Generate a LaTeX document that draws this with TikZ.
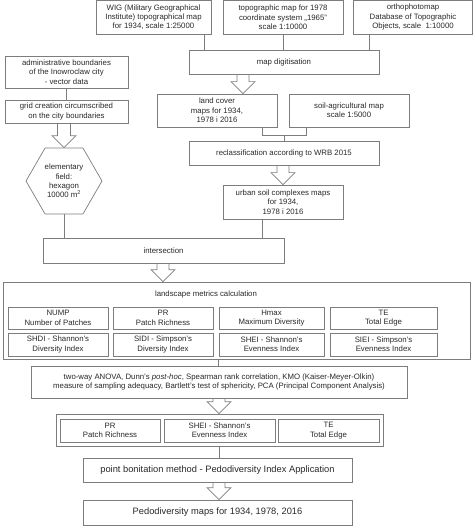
\documentclass[tikz,border=0pt]{standalone}
\usepackage{fontspec}
\setmainfont{Liberation Sans}
\usetikzlibrary{calc,shapes.geometric}
\definecolor{lc}{RGB}{125,125,125}
\definecolor{tc}{RGB}{40,40,40}
\newcommand\harrow[5]{% from, to, x, shaft half width, head half width
  \draw[hollow] let \p1=(#1.south), \p2=(#2.north) in
    ({#3pt-#4pt},\y1) -- ({#3pt-#4pt},\y2+12pt) -- ({#3pt-#5pt},\y2+12pt) --
    (#3pt,\y2) -- ({#3pt+#5pt},\y2+12pt) -- ({#3pt+#4pt},\y2+12pt) -- ({#3pt+#4pt},\y1);}
\begin{document}
\begin{tikzpicture}[x=1pt,y=-1pt,
  box/.style={draw=lc, line width=0.7pt, align=center, inner sep=0pt, text=tc,
    font={\fontsize{7.8}{9.3}\selectfont}},
  bigtext/.style={font={\fontsize{9.3}{11}\selectfont}},
  hollow/.style={draw=lc, line width=0.7pt, line join=miter},
  conn/.style={draw=lc, line width=0.7pt}]
\useasboundingbox (0,0) rectangle (474,526);
% top sources
\node[box, minimum width=115, minimum height=33.5] (wig) at (153.5,17.25) {WIG (Military Geographical\\Institute) topographical map\\for 1934, scale 1:25000};
\node[box, minimum width=120, minimum height=33.5] (topo) at (283,17.25) {topographic map for 1978\\coordinate system „1965”\\scale 1:10000};
\node[box, minimum width=119, minimum height=33.5] (ortho) at (413,17.25) {orthophotomap\\Database of Topographic\\Objects, scale\ \ 1:10000};
\node[box, minimum width=190, minimum height=24] (dig) at (284,62) {map digitisation};
% left column
\node[box, minimum width=123, minimum height=32] (admin) at (66.5,72) {administrative boundaries\\of the Inowroclaw city\\- vector data};
\node[box, minimum width=123, minimum height=23] (grid) at (66.5,111.5) {grid creation circumscribed\\on the city boundaries};
\node[box, regular polygon, regular polygon sides=6, minimum size=76] (hex) at (64,181) {elementary\\field:\\hexagon\\10000 m\textsuperscript{2}};
% right column
\node[box, minimum width=120, minimum height=33] (land) at (217,110.5) {land cover\\maps for 1934,\\1978 i 2016};
\node[box, minimum width=120, minimum height=33] (soil) at (349,110.5) {soil-agricultural map\\scale 1:5000};
\node[box, minimum width=190, minimum height=24] (reclass) at (284,153) {reclassification according to WRB 2015};
\node[box, minimum width=120, minimum height=34] (urban) at (283,202) {urban soil complexes maps\\for 1934,\\1978 i 2016};
\node[box, minimum width=241, minimum height=25] (inter) at (163.5,250.5) {intersection};
% landscape metrics
\node[box, minimum width=467, minimum height=77] (metrics) at (236.5,320.5) {};
\node[text=tc, font={\fontsize{7.8}{9.3}\selectfont}, inner sep=0pt] (mtitle) at (206,294) {landscape metrics calculation};
\node[box, minimum width=100, minimum height=22] (m1) at (58,318) {NUMP\\Number of Patches};
\node[box, minimum width=100, minimum height=22] (m2) at (163,318) {PR\\Patch Richness};
\node[box, minimum width=105, minimum height=22] (m3) at (271.5,318) {Hmax\\Maximum Diversity};
\node[box, minimum width=107, minimum height=22] (m4) at (383.5,318) {TE\\Total Edge};
\node[box, minimum width=100, minimum height=23] (m5) at (58,344.5) {SHDI - Shannon’s\\Diversity Index};
\node[box, minimum width=100, minimum height=23] (m6) at (163,344.5) {SIDI - Simpson’s\\Diversity Index};
\node[box, minimum width=105, minimum height=23] (m7) at (271.5,344.5) {SHEI - Shannon’s\\Evenness Index};
\node[box, minimum width=107, minimum height=23] (m8) at (383.5,344.5) {SIEI - Simpson’s\\Evenness Index};
% statistics
\node[box, minimum width=376, minimum height=32] (anova) at (219,382) {two-way ANOVA, Dunn’s \textit{post-hoc}, Spearman rank correlation, KMO (Kaiser-Meyer-Olkin)\\measure of sampling adequacy, Bartlett’s test of sphericity, PCA (Principal Component Analysis)};
\node[box, minimum width=327, minimum height=32] (sel) at (219.5,430) {};
\node[box, minimum width=100, minimum height=23] (s1) at (110,430.5) {PR\\Patch Richness};
\node[box, minimum width=111, minimum height=23] (s2) at (219.5,430.5) {SHEI - Shannon’s\\Evenness Index};
\node[box, minimum width=101, minimum height=23] (s3) at (328.5,430.5) {TE\\Total Edge};
\node[box, bigtext, minimum width=269, minimum height=24] (bon) at (217.5,470) {point bonitation method - Pedodiversity Index Application};
\node[box, bigtext, minimum width=269, minimum height=25] (maps) at (217.5,512.5) {Pedodiversity maps for 1934, 1978, 2016};
% connectors
\draw[conn] (204,0 |- wig.south) -- (204,0 |- dig.north);
\draw[conn] (topo.south) -- (topo.south |- dig.north);
\draw[conn] (369,0 |- ortho.south) -- (369,0 |- dig.north);
\draw[conn] (admin.south) -- (grid.north);
\coordinate (j1) at (262,135);
\coordinate (j2) at (306,135);
\coordinate (j3) at (284,135);
\draw[conn] (j1 |- land.south) -- (j1) -- (j2) -- (j2 |- soil.south);
\draw[conn] (j3) -- (j3 |- reclass.north);
\draw[conn] (64,0 |- hex.south) -- (64,0 |- inter.north);
\draw[conn] (262,0 |- urban.south) -- (262,0 |- inter.north);
\draw[conn] (218,0 |- metrics.south) -- (218,0 |- anova.north);
\draw[conn] (219,0 |- sel.south) -- (219,0 |- bon.north);
% hollow arrows
\harrow{dig}{land}{243}{6}{12}
\harrow{grid}{hex}{64}{6.5}{12}
\harrow{reclass}{urban}{283}{6}{12}
\harrow{inter}{metrics}{163}{6}{12}
\harrow{anova}{sel}{219}{6}{12}
\harrow{bon}{maps}{219}{6}{12}
\end{tikzpicture}
\end{document}
